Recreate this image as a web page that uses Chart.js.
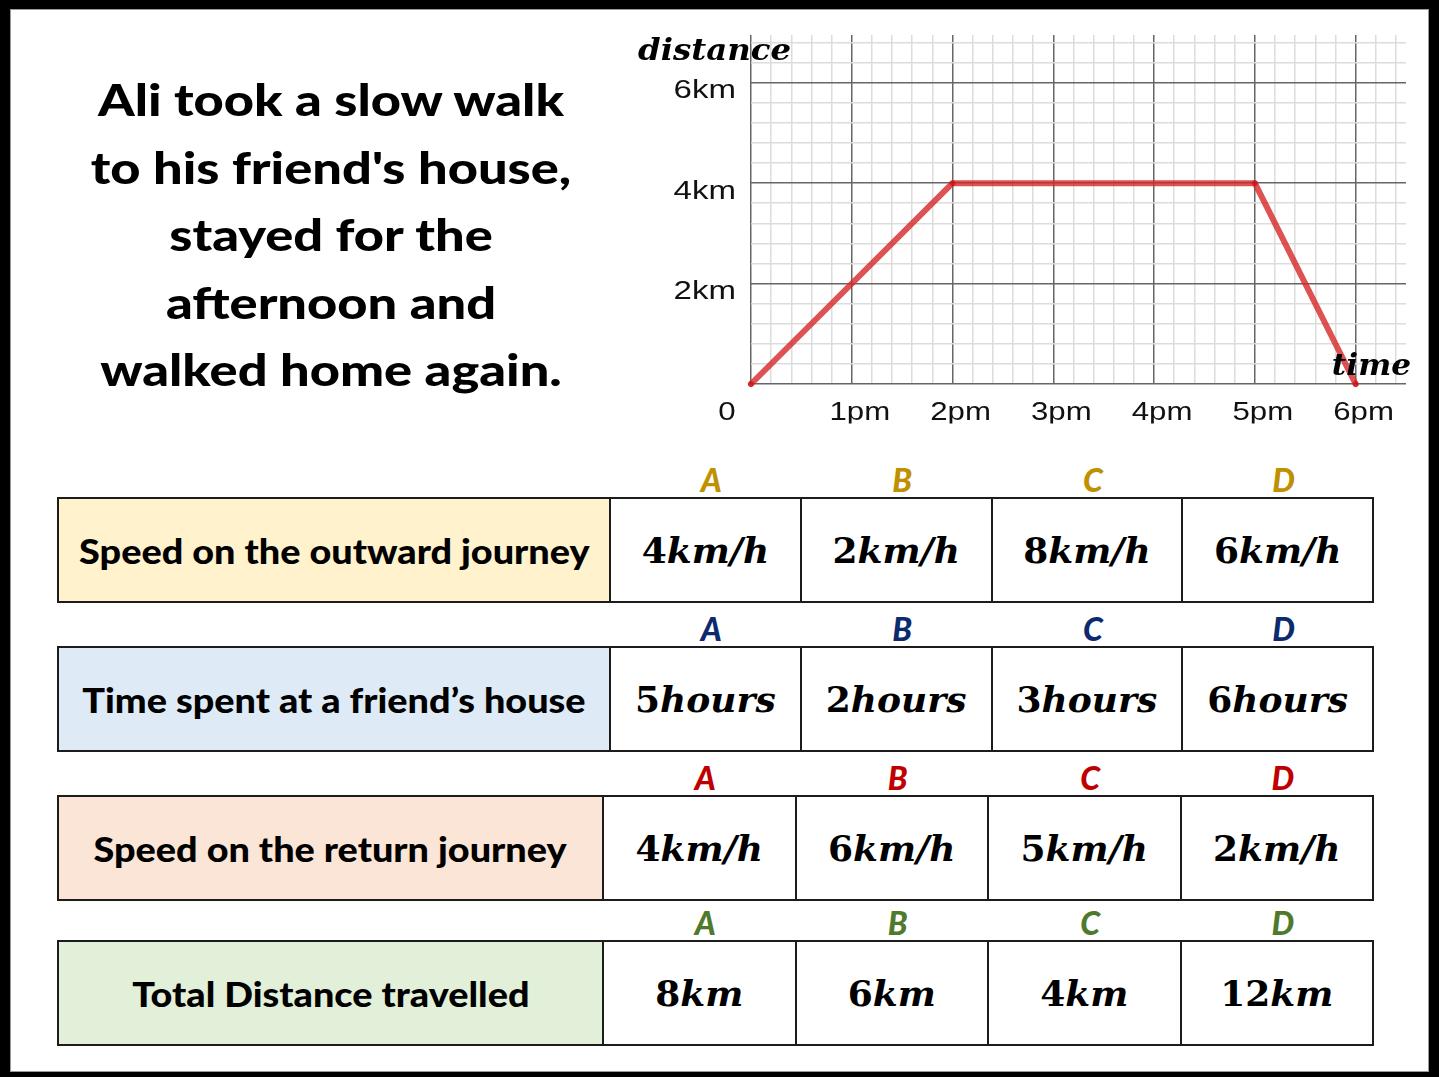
<!DOCTYPE html>
<html>
<head>
<meta charset="utf-8">
<script src="https://cdn.jsdelivr.net/npm/chart.js@4.4.1/dist/chart.umd.min.js"></script>
<style>
  html, body { margin: 0; padding: 0; }
  body { width: 1439px; height: 1077px; background: #000; position: relative; overflow: hidden; }
  #panel { position: absolute; left: 10px; top: 9px; width: 1419px; height: 1063px; background: #fff; box-shadow: inset 0 0 0 1px #9a9a9a; }
  #story { position: absolute; left: 80px; top: 66px; width: 502px; text-align: center;
    font: 900 44px "Lato", "Noto Sans", sans-serif; line-height: 67.5px; color: #000;
    transform: scaleX(1.19); transform-origin: 251px 0; }
  #chartBox { position: absolute; left: 630px; top: 20px; width: 790px; height: 420px; }
  .letters { position: absolute; left: 57px; width: 1315px; height: 32px; display: flex;
    font: italic 900 32px "Lato", sans-serif; line-height: 32px; }
  .letters div { text-align: center; padding-left: 14px; box-sizing: border-box; }
  table.q { position: absolute; left: 57px; width: 1315px; height: 106px; border-collapse: collapse;
    table-layout: fixed; }
  table.q td { border: 2px solid #1c1c1c; text-align: center; vertical-align: middle; padding: 0; }
  td.lbl { font: 900 35px "Lato", sans-serif; color: #000; }
  td.lbl span { display: inline-block; transform: scaleX(1.08); }
  td.val { font: 700 36px "DejaVu Serif", serif; color: #000; background: #fff; }
  td.val i { font-style: italic; }
</style>
</head>
<body>
<div id="panel"></div>
<div id="story">Ali took a slow walk<br>to his friend's house,<br>stayed for the<br>afternoon and<br>walked home again.</div>
<div id="chartBox"><canvas id="walk" width="790" height="420"></canvas></div>
<div id="tables"></div>
<script>
// journey: hours after noon and distance from home (km)
const times = [0, 2, 5, 6];
const distances = [0, 4, 4, 0];

// tick labels
const hourValues = [0, 1, 2, 3, 4, 5, 6];
const hourLabels = ["0", "1pm", "2pm", "3pm", "4pm", "5pm", "6pm"];
const distValues = [2, 4, 6];
const distLabels = ["2km", "4km", "6km"];

// question rows
const questions = [
  "Speed on the outward journey",
  "Time spent at a friend\u2019s house",
  "Speed on the return journey",
  "Total Distance travelled"
];
// each answer: [number, unit]
const answers = [
  [["4", "km/h"], ["2", "km/h"], ["8", "km/h"], ["6", "km/h"]],
  [["5", "hours"], ["2", "hours"], ["3", "hours"], ["6", "hours"]],
  [["4", "km/h"], ["6", "km/h"], ["5", "km/h"], ["2", "km/h"]],
  [["8", "km"], ["6", "km"], ["4", "km"], ["12", "km"]]
];
const optionLetters = ["A", "B", "C", "D"];

// layout of the four answer tables
const tableTops = [497, 646, 795, 940];
const labelWidths = [552, 552, 545, 545];
const labelFills = ["#fff2cc", "#deebf7", "#fbe5d6", "#e2f0d9"];
const letterColors = ["#bf9000", "#0d2a6e", "#c00000", "#4f7a2b"];

const holder = document.getElementById("tables");
questions.forEach((q, r) => {
  const valW = (1315 - labelWidths[r]) / 4;
  const row = document.createElement("div");
  row.className = "letters";
  row.style.top = (tableTops[r] - 33) + "px";
  row.style.color = letterColors[r];
  let html = `<div style="width:${labelWidths[r]}px"></div>`;
  optionLetters.forEach(l => { html += `<div style="width:${valW}px">${l}</div>`; });
  row.innerHTML = html;
  holder.appendChild(row);

  const t = document.createElement("table");
  t.className = "q";
  t.style.top = tableTops[r] + "px";
  let cells = `<colgroup><col style="width:${labelWidths[r]}px">` +
    optionLetters.map(() => `<col style="width:${valW}px">`).join("") + `</colgroup>`;
  cells += `<tr><td class="lbl" style="background:${labelFills[r]}"><span>${q}</span></td>`;
  answers[r].forEach(a => { cells += `<td class="val">${a[0]}<i>${a[1]}</i></td>`; });
  cells += `</tr>`;
  t.innerHTML = cells;
  holder.appendChild(t);
});

// grid: fine squares of 12 minutes by 0.4 km
const xGrid = [];
for (let i = 0; i <= 32; i++) xGrid.push(Math.round(i * 2) / 10);
const yGrid = [];
for (let i = 0; i <= 17; i++) yGrid.push(Math.round(i * 4) / 10);

const isMajor = (v, step) => Math.abs(v / step - Math.round(v / step)) < 1e-6;

// draws stretched helvetica-like labels and the two italic axis names
const axisText = {
  id: "axisText",
  afterDraw(chart) {
    const { ctx, chartArea, scales } = chart;
    const put = (txt, px, py, sx) => {
      ctx.save();
      ctx.translate(px, py);
      ctx.scale(sx, 1);
      ctx.fillText(txt, 0, 0);
      ctx.restore();
    };
    ctx.save();
    ctx.fillStyle = "#111";
    ctx.font = '26px "Liberation Sans", Arial, sans-serif';
    ctx.textBaseline = "alphabetic";
    ctx.textAlign = "right";
    distValues.forEach((v, i) => put(distLabels[i], chartArea.left - 15, scales.y.getPixelForValue(v) + 15.5, 1.27));
    ctx.beginPath();
    ctx.rect(0, 0, chart.width, chartArea.bottom + 39.5);
    ctx.clip();
    ctx.textAlign = "center";
    hourValues.forEach((h, i) => {
      const px = scales.x.getPixelForValue(h) + (h === 0 ? -24 : 8);
      put(hourLabels[i], px, chartArea.bottom + 36, 1.2);
    });
    ctx.restore();

    ctx.save();
    ctx.fillStyle = "#000";
    ctx.font = 'italic bold 30px "DejaVu Serif", serif';
    ctx.textAlign = "left";
    put("distance", chartArea.left - 113, chartArea.top + 25, 1.08);
    ctx.textAlign = "right";
    put("time", chartArea.right + 5, chartArea.bottom - 9, 1.04);
    ctx.restore();
  }
};

new Chart(document.getElementById("walk"), {
  type: "line",
  data: {
    datasets: [{
      data: times.map((t, i) => ({ x: t, y: distances[i] })),
      borderColor: "rgba(214, 39, 40, 0.8)",
      borderWidth: 6,
      borderCapStyle: "round",
      borderJoinStyle: "round",
      pointRadius: 3,
      pointBackgroundColor: "rgba(200, 0, 0, 0.5)",
      pointBorderWidth: 0,
      tension: 0,
      clip: false
    }]
  },
  options: {
    responsive: false,
    animation: false,
    layout: { padding: { left: 121, top: 15, right: 14, bottom: 56 } },
    plugins: { legend: { display: false }, tooltip: { enabled: false } },
    scales: {
      x: {
        type: "linear",
        min: 0,
        max: 6.5,
        afterBuildTicks: (scale) => { scale.ticks = xGrid.map(v => ({ value: v })); },
        ticks: { display: false },
        border: { display: false },
        grid: {
          drawTicks: false,
          lineWidth: 1.5,
          color: (c) => isMajor(c.tick.value, 1) ? "#666666" : "#dcdcdc"
        }
      },
      y: {
        type: "linear",
        min: 0,
        max: 6.95,
        afterBuildTicks: (scale) => { scale.ticks = yGrid.map(v => ({ value: v })); },
        ticks: { display: false },
        border: { display: false },
        grid: {
          drawTicks: false,
          lineWidth: 1.5,
          color: (c) => isMajor(c.tick.value, 2) ? "#666666" : "#dcdcdc"
        }
      }
    }
  },
  plugins: [axisText]
});
</script>
</body>
</html>
